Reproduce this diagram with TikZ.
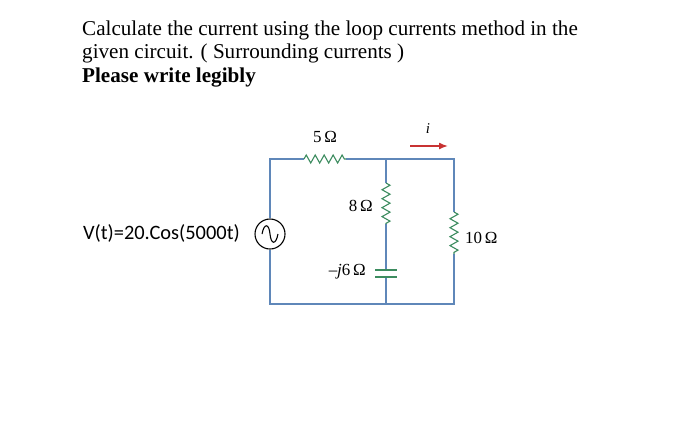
\documentclass[tikz,border=0pt]{standalone}
\usepackage{fontspec}
\setmainfont{Liberation Serif}
\newfontfamily\carlitofont{Carlito}
\usetikzlibrary{decorations.pathmorphing,arrows.meta}
\definecolor{wire}{RGB}{95,135,185}
\definecolor{res}{RGB}{60,140,95}
\definecolor{arr}{RGB}{200,50,50}
\tikzset{w/.style={wire,line width=1.5pt},
 rz/.style={res,line width=1.1pt,decorate,decoration={zigzag,amplitude=4pt,segment length=9pt}},
 lbl/.style={inner sep=1pt,font=\fontsize{17}{17}\selectfont}}
\begin{document}
\begin{tikzpicture}[x=1bp,y=-1bp]
\useasboundingbox[fill=white] (0,0) rectangle (700,429);
\node[anchor=west,inner sep=0,font=\fontsize{21.2}{21}\selectfont] (t1) at (82,30) {Calculate the current using the loop currents method in the};
\node[anchor=west,inner sep=0,font=\fontsize{21.2}{21}\selectfont] (t2) at (82,53) {given circuit. ( Surrounding currents )};
\node[anchor=west,inner sep=0,font=\fontsize{21.2}{21}\selectfont\bfseries] (t3) at (82,77) {Please write legibly};
\coordinate (tl) at (270,159); \coordinate (bl) at (270,304);
\coordinate (tm) at (386,159); \coordinate (bm) at (386,304);
\coordinate (tr) at (454,159); \coordinate (br) at (454,304);
\node[circle,draw=black,line width=1.1pt,minimum size=30bp,inner sep=0] (src) at (270,234) {};
\draw[line width=1.1pt] ([xshift=-8]src.center) .. controls ([xshift=-6,yshift=11]src.center) and ([xshift=-1,yshift=11]src.center) .. (src.center) .. controls ([xshift=1,yshift=-11]src.center) and ([xshift=6,yshift=-11]src.center) .. ([xshift=8]src.center);
\coordinate (r5a) at (304,159); \coordinate (r5b) at (346,159);
\coordinate (r8a) at (386,183); \coordinate (r8b) at (386,224);
\coordinate (r10a) at (454,212); \coordinate (r10b) at (454,254);
\coordinate (ca) at (386,270); \coordinate (cb) at (386,277);
\draw[w] (src.north) -- (tl) -- (r5a);
\draw[w] (r5b) -- (tr) -- (r10a);
\draw[w] (r10b) -- (br) -- (bl) -- (src.south);
\draw[w] (tm) -- (r8a); \draw[w] (r8b) -- (ca); \draw[w] (cb) -- (bm);
\draw[rz] (r5a) -- (r5b);
\draw[rz] (r8a) -- (r8b);
\draw[rz] (r10a) -- (r10b);
\draw[res,line width=1.1pt] ([xshift=-11]ca) -- ([xshift=11]ca) ([xshift=-11]cb) -- ([xshift=11]cb);
\draw[arr,line width=1.5pt,-{Latex[length=9pt,width=7pt]}] (410,146) -- (448,146);
\node[lbl,font=\fontsize{15}{15}\selectfont\itshape] (i) at (428,129) {i};
\node[lbl] (l5) at (325,137) {5\,Ω};
\node[lbl,anchor=east] (l8) at (374,206) {8\,Ω};
\node[lbl,anchor=west] (l10) at (464,238) {10\,Ω};
\node[lbl,anchor=east] (lc) at (367,272) {\textit{–j}6\,Ω};
\node[anchor=east,inner sep=0,font=\carlitofont\fontsize{20.5}{20}\selectfont] (lv) at (240,233) {V(t)=20.Cos(5000t)};
\end{tikzpicture}
\end{document}
